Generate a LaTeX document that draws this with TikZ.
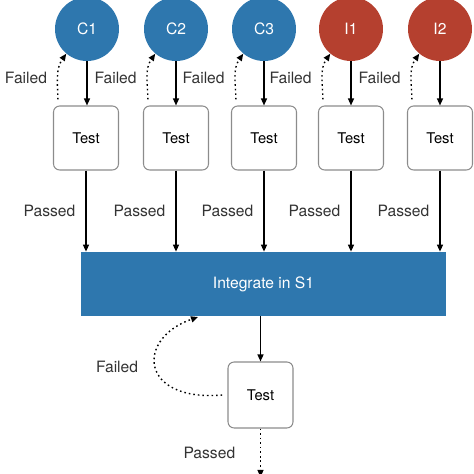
\documentclass[tikz,border=0pt]{standalone}
\usepackage{fontspec}
\setmainfont{TeX Gyre Heros}
\usetikzlibrary{arrows.meta}
\definecolor{cblue}{HTML}{2E77AE}
\definecolor{ired}{HTML}{B5402F}
\definecolor{boxgray}{HTML}{8C8C8C}
\definecolor{lblgray}{HTML}{333333}

\begin{document}
\begin{tikzpicture}[x=0.02cm, y=0.02cm,
	every node/.style={font=\fontsize{8.9}{10}\selectfont},
	comp/.style={circle, fill=cblue, text=white, minimum size=1.28cm, inner sep=0},
	inst/.style={comp, fill=ired},
	test/.style={draw=boxgray, line width=0.6pt, rounded corners=3.5pt, fill=white, minimum width=1.3cm, minimum height=1.28cm, font=\fontsize{8.4}{10}\selectfont},
	arr/.style={-{Triangle[length=4pt,width=3.4pt]}, line width=0.8pt},
	dots/.style={arr, dash pattern=on 0.9pt off 1.7pt},
	lbl/.style={inner sep=0, text=lblgray}]
	\useasboundingbox (0,0) rectangle (474,474);

	\node[comp] (c1) at (87,445) {C1};
	\node[comp] (c2) at (176,445) {C2};
	\node[comp] (c3) at (264,445) {C3};
	\node[inst] (i1) at (351,445) {I1};
	\node[inst] (i2) at (440,445) {I2};

	\node[test] (t1) at (86,336) {Test};
	\node[test] (t2) at (176,336) {Test};
	\node[test] (t3) at (264,336) {Test};
	\node[test] (t4) at (351,336) {Test};
	\node[test] (t5) at (440,336) {Test};

	\node[fill=cblue, text=white, minimum width=7.3cm, minimum height=1.28cm] (integ) at (263.5,190) {Integrate in S1};
	\node[test, minimum height=1.32cm] (t6) at (260.5,79) {Test};

	\draw[arr] (c1.south) -- (c1.south |- t1.north);
	\draw[arr] (c2.south) -- (c2.south |- t2.north);
	\draw[arr] (c3.south) -- (c3.south |- t3.north);
	\draw[arr] (i1.south) -- (i1.south |- t4.north);
	\draw[arr] (i2.south) -- (i2.south |- t5.north);

	\draw[dots] ([shift={(5,6)}]t1.north west) to[out=92,in=235] node[lbl, left=5.7pt, pos=0.45] {Failed} (c1.230);
	\draw[dots] ([shift={(5,6)}]t2.north west) to[out=92,in=235] node[lbl, left=5.7pt, pos=0.45] {Failed} (c2.230);
	\draw[dots] ([shift={(5,6)}]t3.north west) to[out=92,in=235] node[lbl, left=5.7pt, pos=0.45] {Failed} (c3.230);
	\draw[dots] ([shift={(5,6)}]t4.north west) to[out=92,in=235] node[lbl, left=5.7pt, pos=0.45] {Failed} (i1.230);
	\draw[dots] ([shift={(5,6)}]t5.north west) to[out=92,in=235] node[lbl, left=5.7pt, pos=0.45] {Failed} (i2.230);

	\draw[arr] (t1.south) -- node[lbl, left=5.7pt] {Passed} (t1.south |- integ.north);
	\draw[arr] (t2.south) -- node[lbl, left=5.7pt] {Passed} (t2.south |- integ.north);
	\draw[arr] (t3.south) -- node[lbl, left=5.7pt] {Passed} (t3.south |- integ.north);
	\draw[arr] (t4.south) -- node[lbl, left=5.7pt] {Passed} (t4.south |- integ.north);
	\draw[arr] (t5.south) -- node[lbl, left=5.7pt] {Passed} (t5.south |- integ.north);

	\draw[arr] (t6.north |- integ.south) -- (t6.north);

	\coordinate (back) at (198,157);
	\coordinate (exit) at (261,-3);
	\draw[dots] ([xshift=-3]t6.west) .. controls (140,72) and (135,135) .. node[lbl, left=9.6pt, pos=0.5] {Failed} (back);
	\draw[dots] (t6.south) -- node[lbl, left=14pt] {Passed} (t6.south |- exit);
\end{tikzpicture}
\end{document}
